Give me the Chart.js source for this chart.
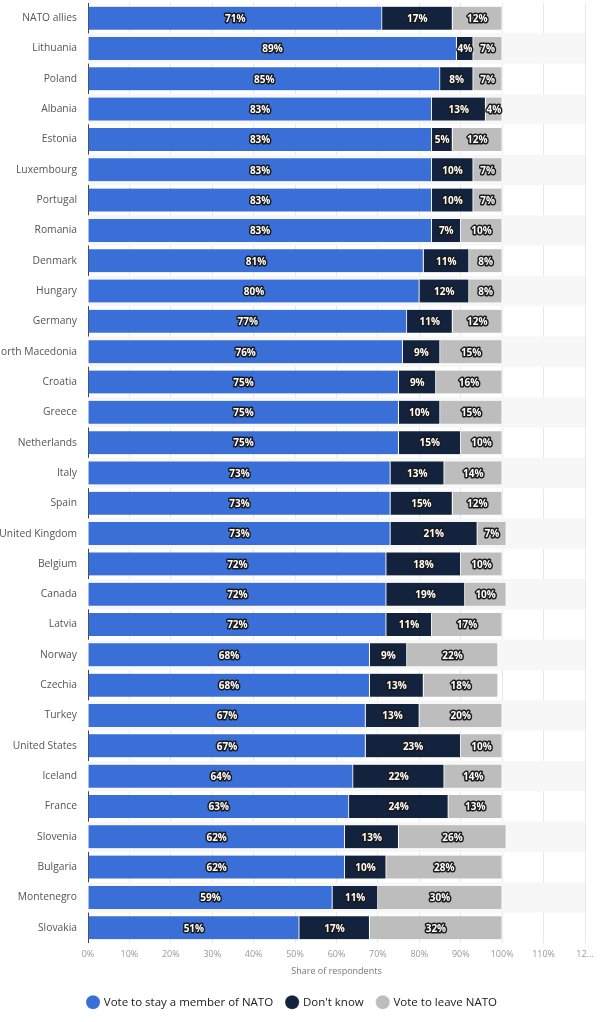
<!DOCTYPE html>
<html>
<head>
<meta charset="utf-8">
<script src="https://cdn.jsdelivr.net/npm/chart.js@4.4.1/dist/chart.umd.min.js"></script>
<style>
    html, body { margin: 0; padding: 0; background: #fff; }
    #wrap { width: 600px; height: 1022px; position: relative; }
</style>
</head>
<body>
<div id="wrap"><canvas id="graphCanvas"></canvas></div>
<script>
// Datos
var paises = ['NATO allies', 'Lithuania', 'Poland', 'Albania', 'Estonia', 'Luxembourg', 'Portugal',
    'Romania', 'Denmark', 'Hungary', 'Germany', 'North Macedonia', 'Croatia', 'Greece', 'Netherlands',
    'Italy', 'Spain', 'United Kingdom', 'Belgium', 'Canada', 'Latvia', 'Norway', 'Czechia', 'Turkey',
    'United States', 'Iceland', 'France', 'Slovenia', 'Bulgaria', 'Montenegro', 'Slovakia'];
var quedarse = [71, 89, 85, 83, 83, 83, 83, 83, 81, 80, 77, 76, 75, 75, 75, 73, 73, 73, 72, 72, 72,
    68, 68, 67, 67, 64, 63, 62, 62, 59, 51];
var noSabe = [17, 4, 8, 13, 5, 10, 10, 7, 11, 12, 11, 9, 9, 10, 15, 13, 15, 21, 18, 19, 11,
    9, 13, 13, 23, 22, 24, 13, 10, 11, 17];
var salir = [12, 7, 7, 4, 12, 7, 7, 10, 8, 8, 12, 15, 16, 15, 10, 14, 12, 7, 10, 10, 17,
    22, 18, 20, 10, 14, 13, 26, 28, 30, 32];
var ticksX = [0, 10, 20, 30, 40, 50, 60, 70, 80, 90, 100, 110, 120];

var fuente = "'Open Sans', 'Liberation Sans', sans-serif";

// franjas alternas de fondo
var franjas = {
    id: 'franjas',
    beforeDatasetsDraw: function (chart) {
        var ctx = chart.ctx;
        var area = chart.chartArea;
        var y = chart.scales.y;
        var alto = (area.bottom - area.top) / paises.length;
        ctx.save();
        ctx.fillStyle = '#f7f7f7';
        for (var i = 1; i < paises.length; i += 2) {
            var c = y.getPixelForValue(i);
            ctx.fillRect(area.left, c - alto / 2, area.right - area.left, alto);
        }
        ctx.restore();
    }
};

// etiquetas de valor
var etiquetasValor = {
    id: 'etiquetasValor',
    afterDatasetsDraw: function (chart) {
        var ctx = chart.ctx;
        ctx.save();
        ctx.font = 'bold 10px ' + fuente;
        ctx.textAlign = 'center';
        ctx.textBaseline = 'middle';
        ctx.lineJoin = 'round';
        chart.data.datasets.forEach(function (ds, d) {
            var meta = chart.getDatasetMeta(d);
            meta.data.forEach(function (bar, i) {
                var txt = ds.data[i] + '%';
                var x = (bar.x + bar.base) / 2;
                ctx.lineWidth = 3;
                ctx.strokeStyle = '#1a1a1a';
                ctx.strokeText(txt, x, bar.y + 1);
                ctx.fillStyle = '#fff';
                ctx.fillText(txt, x, bar.y + 1);
            });
        });
        ctx.restore();
    }
};

function serie(nombre, valores, color) {
    return {
        label: nombre,
        data: valores,
        backgroundColor: color,
        borderColor: '#fff',
        borderWidth: { left: 0, right: 1, top: 0, bottom: 0 },
        borderSkipped: false,
        barThickness: 23
    };
}

var chartdata = {
    labels: paises,
    datasets: [
        serie('Vote to stay a member of NATO', quedarse, '#3a6fd8'),
        serie("Don't know", noSabe, '#14233d'),
        serie('Vote to leave NATO', salir, '#bdbdbd')
    ]
};

window.grafica = new Chart(document.getElementById('graphCanvas'), {
    type: 'bar',
    data: chartdata,
    plugins: [franjas, etiquetasValor],
    options: {
        indexAxis: 'y',
        responsive: true,
        maintainAspectRatio: false,
        animation: false,
        layout: { padding: { top: 3, right: 15, bottom: 4, left: 0 } },
        scales: {
            x: {
                stacked: true,
                min: 0,
                max: 120,
                afterBuildTicks: function (scale) {
                    scale.ticks = ticksX.map(function (v) { return { value: v }; });
                },
                grid: { color: '#e8e8e8', drawTicks: false },
                border: { display: false },
                ticks: {
                    padding: 6,
                    maxRotation: 0,
                    color: '#999',
                    font: { family: fuente, size: 9 },
                    callback: function (v) { return v == 120 ? '12...' : v + '%'; }
                },
                title: {
                    display: true,
                    text: 'Share of respondents',
                    color: '#777',
                    font: { family: fuente, size: 9 },
                    padding: { top: 0, bottom: 6 }
                }
            },
            y: {
                stacked: true,
                afterFit: function (scale) {
                    scale.width = 88;
                    scale.paddingTop = 0;
                    scale.paddingBottom = 0;
                },
                grid: { display: false, drawTicks: false },
                border: { display: true, color: '#444', width: 1 },
                ticks: {
                    padding: 11,
                    color: '#555',
                    font: { family: fuente, size: 10.3 }
                }
            }
        },
        plugins: {
            legend: {
                position: 'bottom',
                labels: {
                    usePointStyle: true,
                    pointStyle: 'circle',
                    boxWidth: 10,
                    boxHeight: 10,
                    padding: 14,
                    color: '#1a1a1a',
                    font: { family: fuente, size: 11.5 }
                }
            },
            tooltip: { enabled: false }
        }
    }
});
</script>
</body>
</html>
